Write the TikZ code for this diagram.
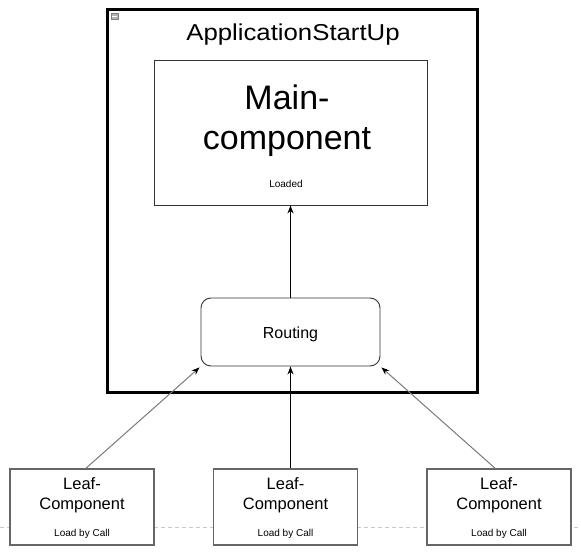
\documentclass[tikz,border=0pt]{standalone}
\usepackage{fontspec}
\setmainfont{Liberation Sans}
\usetikzlibrary{arrows.meta,calc}
\definecolor{boxline}{HTML}{333333}
\definecolor{leafline}{HTML}{666666}
\definecolor{grayline}{HTML}{7A7A7A}
\definecolor{dashline}{HTML}{C8C8C8}
\tikzset{
  box/.style={draw=boxline, line width=0.9pt, fill=white, inner sep=0pt},
  leafbox/.style={draw=leafline, line width=1.6pt, fill=white, inner sep=0pt,
    minimum width=144pt, minimum height=76pt},
  txt/.style={inner sep=0pt, align=center},
  conn/.style={line width=1pt, -{Stealth[length=8pt,width=6pt,color=black]}},
}
\begin{document}
\begin{tikzpicture}[x=1pt,y=-1pt]
\useasboundingbox (0,0) rectangle (581,559);
\fill[white] (0,0) rectangle (581,559);
% dashed page line
\draw[dashline, dashed, dash pattern=on 4pt off 3pt, line width=0.8pt] (0,527) -- (581,527);
% outer container
\node[draw=black, line width=3pt, fill=white, minimum width=370pt, minimum height=382pt, inner sep=0pt] (outer) at (292,201) {};
\node[txt, font=\fontsize{23}{27}\selectfont, xscale=1.12, transform shape] (title) at (293,35) {ApplicationStartUp};
% collapse icon
\node[draw=gray, fill=gray!60, minimum width=7pt, minimum height=6pt, inner sep=0pt] (icon) at (114.5,16.5) {};
\draw[white, line width=0.8pt] ($(icon.west)+(1.5,0)$) -- ($(icon.east)+(-1.5,0)$);
% main component
\node[box, minimum width=273pt, minimum height=145pt] (main) at (290.5,132.5) {};
\node[txt, font=\fontsize{34}{40}\selectfont] (maintxt) at (287,121) {Main-\\component};
\node[txt, font=\fontsize{10}{12}\selectfont] (loaded) at (286,184) {Loaded};
% routing
\node[box, rounded corners=10pt, minimum width=179pt, minimum height=68pt] (routing) at (290.5,332) {};
\node[txt, font=\fontsize{16}{19}\selectfont] (routingtxt) at (290.5,334) {Routing};
% leaf components
\node[leafbox] (leafL) at (82,507) {};
\node[leafbox] (leafM) at (285.5,507) {};
\node[leafbox] (leafR) at (499,507) {};
\foreach \n in {leafL,leafM,leafR}{
  \node[txt, font=\fontsize{16.5}{20}\selectfont] at ($(\n.north)+(0,27)$) {Leaf-\\Component};
  \node[txt, font=\fontsize{10}{12}\selectfont] at ($(\n.north)+(0,65.5)$) {Load by Call};
}
% connectors
\draw[conn, black] (routing.north) -- (main.south);
\draw[conn, black] (leafM.north -| routing.south) -- (routing.south);
\draw[conn, grayline] ($(leafL.north)+(4,0)$) -- ($(routing.south west)+(-1,1)$);
\draw[conn, grayline] ($(leafR.north)+(-4,0)$) -- ($(routing.south east)+(1,1)$);
\end{tikzpicture}
\end{document}
